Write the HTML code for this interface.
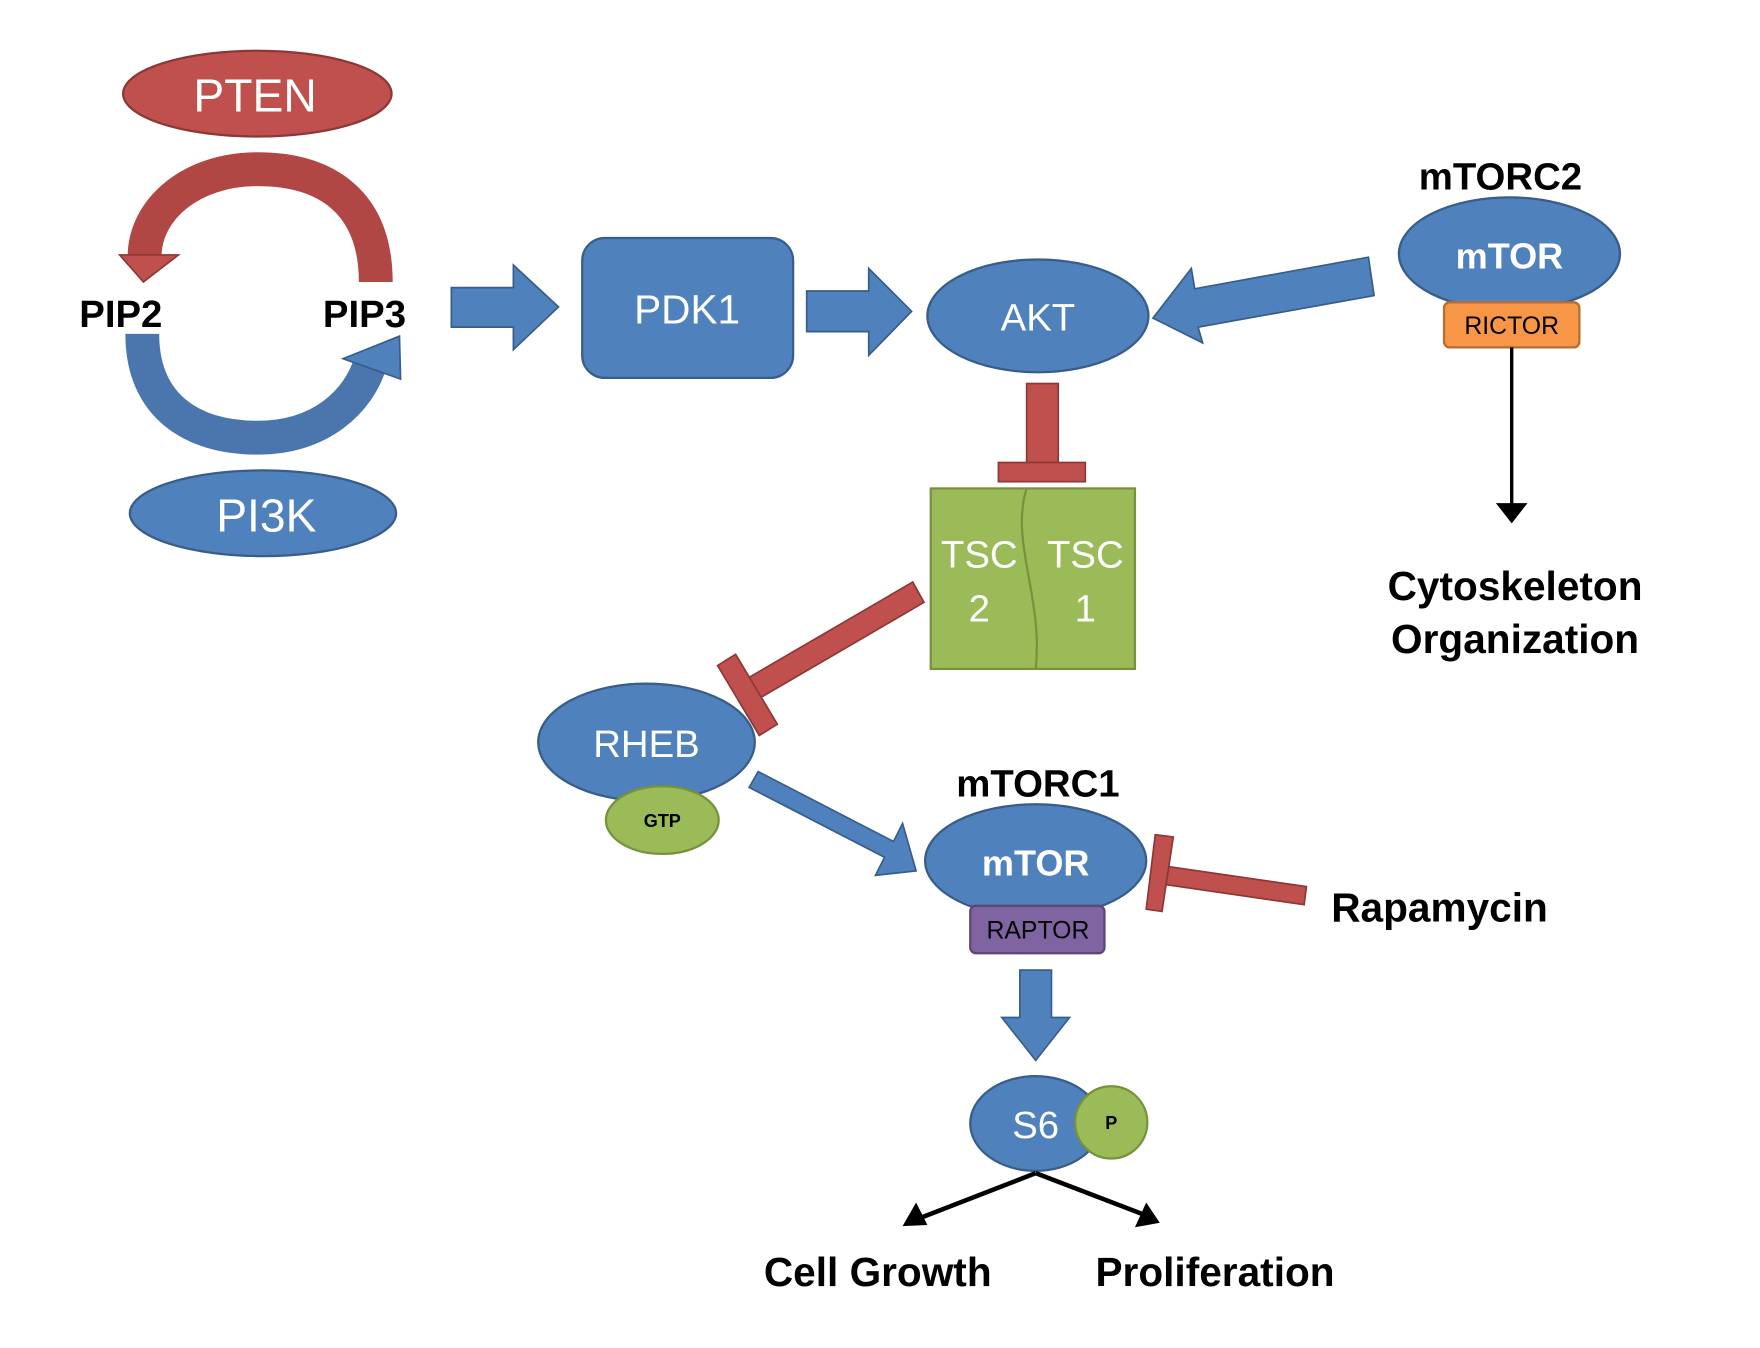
<!DOCTYPE html>
<html><head><meta charset="utf-8"><style>html,body{margin:0;padding:0;background:#fff}svg{display:block}</style></head>
<body>
<svg width="1760" height="1348" viewBox="0 0 1560 1195" xmlns="http://www.w3.org/2000/svg" font-family="Liberation Sans, sans-serif">
<rect width="1560" height="1195" fill="#fff"/>
<!-- PTEN -->
<ellipse cx="228" cy="83" rx="119" ry="38" fill="#c0504d" stroke="#8c3836" stroke-width="2"/>
<text x="226" y="99" text-anchor="middle" fill="#fff" font-size="41">PTEN</text>
<!-- red arc -->
<path d="M333,250 C333,180 290,150 228,150 C170,150 128,185 128,228" fill="none" stroke="#b04745" stroke-width="30"/>
<polygon points="106,226 158,226 127,250" fill="#c0504d" stroke="#8c3836" stroke-width="1.5"/>
<!-- blue arc -->
<path d="M126,296 C126,360 170,388 228,388 C285,388 318,355 328,322" fill="none" stroke="#4a76ad" stroke-width="30"/>
<polygon points="304,318 355,336 354,298" fill="#4f81bd" stroke="#385d8a" stroke-width="1.5"/>
<text x="107" y="290" text-anchor="middle" font-weight="bold" font-size="34">PIP2</text>
<text x="323" y="290" text-anchor="middle" font-weight="bold" font-size="34">PIP3</text>
<!-- PI3K -->
<ellipse cx="233" cy="455" rx="118" ry="38" fill="#4f81bd" stroke="#385d8a" stroke-width="2"/>
<text x="236" y="471" text-anchor="middle" fill="#fff" font-size="41">PI3K</text>
<!-- arrow 1 -->
<polygon points="400,255 455,255 455,235 495,272 455,310 455,290 400,290" fill="#4f81bd" stroke="#385d8a" stroke-width="1.5"/>
<!-- PDK1 -->
<rect x="516" y="211" width="187" height="124" rx="20" fill="#4f81bd" stroke="#385d8a" stroke-width="2"/>
<text x="609" y="287" text-anchor="middle" fill="#fff" font-size="36">PDK1</text>
<!-- arrow 2 -->
<polygon points="715,258 770,258 770,238 808,276 770,315 770,294 715,294" fill="#4f81bd" stroke="#385d8a" stroke-width="1.5"/>
<!-- AKT -->
<ellipse cx="920" cy="280" rx="98" ry="50" fill="#4f81bd" stroke="#385d8a" stroke-width="2"/>
<text x="920" y="293" text-anchor="middle" fill="#fff" font-size="34">AKT</text>
<!-- arrow mTORC2 -> AKT -->
<polygon points="1213,228 1218,262 1062,290 1066,304 1022,282 1056,238 1059,256" fill="#4f81bd" stroke="#385d8a" stroke-width="1.5"/>
<!-- mTORC2 -->
<text x="1330" y="168" text-anchor="middle" font-weight="bold" font-size="34">mTORC2</text>
<ellipse cx="1338" cy="225" rx="98" ry="50" fill="#4f81bd" stroke="#385d8a" stroke-width="2"/>
<text x="1338" y="238" text-anchor="middle" fill="#fff" font-weight="bold" font-size="32">mTOR</text>
<rect x="1280" y="268" width="120" height="40" rx="5" fill="#f79646" stroke="#b66d31" stroke-width="2"/>
<text x="1340" y="296" text-anchor="middle" font-size="22">RICTOR</text>
<line x1="1340" y1="308" x2="1340" y2="448" stroke="#000" stroke-width="3"/>
<polygon points="1326,446 1354,446 1340,464" fill="#000"/>
<text x="1343" y="532" text-anchor="middle" font-weight="bold" font-size="36">Cytoskeleton</text>
<text x="1343" y="579" text-anchor="middle" font-weight="bold" font-size="36">Organization</text>
<!-- AKT -| TSC -->
<rect x="910" y="340" width="28" height="72" fill="#c0504d" stroke="#8c3836" stroke-width="1.5"/>
<rect x="885" y="410" width="77" height="17" fill="#c0504d" stroke="#8c3836" stroke-width="1.5"/>
<!-- TSC -->
<rect x="825" y="433" width="181" height="160" fill="#9bbb59" stroke="#76923c" stroke-width="2"/>
<path d="M910,433 C895,480 925,530 918,593" fill="none" stroke="#76923c" stroke-width="2"/>
<text x="868" y="503" text-anchor="middle" fill="#fff" font-size="34">TSC</text>
<text x="868" y="551" text-anchor="middle" fill="#fff" font-size="34">2</text>
<text x="962" y="503" text-anchor="middle" fill="#fff" font-size="34">TSC</text>
<text x="962" y="551" text-anchor="middle" fill="#fff" font-size="34">1</text>
<!-- TSC -| RHEB -->
<polygon points="809,516 819,534 668,622 658,604" fill="#c0504d" stroke="#8c3836" stroke-width="1.5"/>
<polygon points="636,590 652,580 689,642 673,652" fill="#c0504d" stroke="#8c3836" stroke-width="1.5"/>
<!-- RHEB -->
<ellipse cx="573" cy="658" rx="96" ry="52" fill="#4f81bd" stroke="#385d8a" stroke-width="2"/>
<text x="573" y="671" text-anchor="middle" fill="#fff" font-size="34">RHEB</text>
<ellipse cx="587" cy="727" rx="50" ry="30" fill="#9bbb59" stroke="#76923c" stroke-width="2"/>
<text x="587" y="733" text-anchor="middle" font-weight="bold" font-size="16">GTP</text>
<!-- RHEB -> mTORC1 -->
<polygon points="672,684 792,746 800,730 812,772 776,776 784,760 664,698" fill="#4f81bd" stroke="#385d8a" stroke-width="1.5"/>
<!-- mTORC1 -->
<text x="920" y="706" text-anchor="middle" font-weight="bold" font-size="34">mTORC1</text>
<ellipse cx="918" cy="763" rx="98" ry="50" fill="#4f81bd" stroke="#385d8a" stroke-width="2"/>
<text x="918" y="776" text-anchor="middle" fill="#fff" font-weight="bold" font-size="32">mTOR</text>
<rect x="860" y="803" width="119" height="42" rx="5" fill="#8064a2" stroke="#5c4776" stroke-width="2"/>
<text x="920" y="832" text-anchor="middle" font-size="22">RAPTOR</text>
<!-- Rapamycin -| -->
<polygon points="1158,786 1156,802 1032,784 1034,768" fill="#c0504d" stroke="#8c3836" stroke-width="1.5"/>
<polygon points="1024,740 1040,742 1030,808 1016,806" fill="#c0504d" stroke="#8c3836" stroke-width="1.5"/>
<text x="1180" y="817" font-weight="bold" font-size="36">Rapamycin</text>
<!-- down arrow -->
<polygon points="904,860 932,860 932,902 948,902 918,940 888,902 904,902" fill="#4f81bd" stroke="#385d8a" stroke-width="1.5"/>
<!-- S6 -->
<ellipse cx="918" cy="996" rx="58" ry="42" fill="#4f81bd" stroke="#385d8a" stroke-width="2"/>
<text x="918" y="1009" text-anchor="middle" fill="#fff" font-size="34">S6</text>
<circle cx="985" cy="995" r="32" fill="#9bbb59" stroke="#76923c" stroke-width="2"/>
<text x="985" y="1001" text-anchor="middle" font-weight="bold" font-size="16">P</text>
<!-- outputs -->
<line x1="918" y1="1040" x2="815" y2="1080" stroke="#000" stroke-width="4"/>
<polygon points="800,1087 812,1066 822,1086" fill="#000"/>
<line x1="918" y1="1040" x2="1012" y2="1076" stroke="#000" stroke-width="4"/>
<polygon points="1028,1084 1006,1088 1016,1066" fill="#000"/>
<text x="778" y="1140" text-anchor="middle" font-weight="bold" font-size="36">Cell Growth</text>
<text x="1077" y="1140" text-anchor="middle" font-weight="bold" font-size="36">Proliferation</text>
</svg>
</body></html>
